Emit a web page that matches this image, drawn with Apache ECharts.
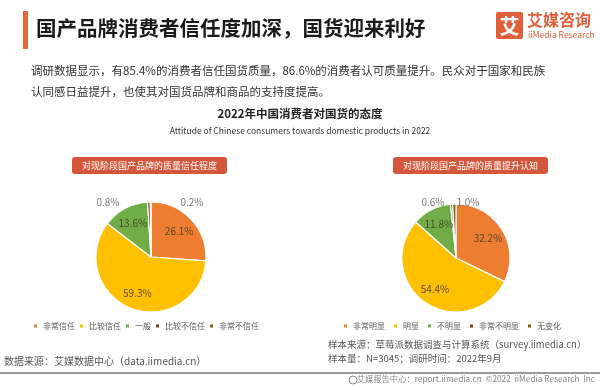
<!DOCTYPE html>
<html><head><meta charset="utf-8">
<script src="https://cdn.jsdelivr.net/npm/echarts@6/dist/echarts.min.js"></script>
<style>html,body{margin:0;padding:0;background:#fff}#c{width:600px;height:386px}</style>
</head><body><div id="c"></div>
<script>
const trustCats = ['非常信任','比较信任','一般','比较不信任','非常不信任'];
const trustVals = [26.1, 59.3, 13.6, 0.8, 0.2];
const improveCats = ['非常明显','明显','不明显','非常不明显','无变化'];
const improveVals = [32.2, 54.4, 11.8, 0.6, 1.0];
const colors = ['#ED7D31','#FFC000','#70AD47','#843C0C','#7F6000'];

const FONT = '"Noto Sans CJK SC","Noto Sans",sans-serif';
const chart = echarts.init(document.getElementById('c'), null, {renderer:'canvas'});

// label placement: inside labels pushed outward along slice mid-angle; tiny slices labelled above the pie
function makeLabelLayout(vals, center, radius, smallPos){
  const total = vals.reduce((a,b)=>a+b,0);
  const cum = [];
  let s = 0;
  vals.forEach(v=>{ cum.push(s + v/2); s += v; });
  return function(p){
    const i = p.dataIndex;
    if (smallPos[i]) {
      return {x: smallPos[i][0], y: smallPos[i][1], align:'center', verticalAlign:'middle'};
    }
    const a = cum[i] / total * Math.PI * 2;
    const r = radius * 0.7;
    return {x: center[0] + Math.sin(a)*r, y: center[1] - Math.cos(a)*r, align:'center', verticalAlign:'middle'};
  };
}

function pieSeries(name, cats, vals, center, radius, smallPos){
  return {
    type:'pie', name, center, radius:[0, radius], startAngle:90, clockwise:true,
    avoidLabelOverlap:false, silent:true, animation:false,
    itemStyle:{borderColor:'#fff', borderWidth:1.2},
    label:{show:true, position:'inside', formatter:p=>p.value.toFixed(1)+'%', color:'rgba(70,60,40,0.9)', fontSize:10, fontFamily:FONT},
    labelLine:{show:false},
    labelLayout: makeLabelLayout(vals, center, radius, smallPos),
    data: cats.map((c,i)=>({name:c, value:vals[i], itemStyle:{color:colors[i]},
      label: i>=3 ? {color:'#7a7a7a'} : {}}))
  };
}

chart.setOption({
  backgroundColor:'#fff',
  textStyle:{fontFamily:FONT},
  title:[
    {text:'国产品牌消费者信任度加深，国货迎来利好', left:36, top:18, padding:0, textStyle:{fontSize:20.5, fontWeight:'bold', color:'#1a1a1a', fontFamily:FONT}},
    {text:'调研数据显示，有85.4%的消费者信任国货质量，86.6%的消费者认可质量提升。民众对于国家和民族\n认同感日益提升，也使其对国货品牌和商品的支持度提高。', left:31, top:60, padding:0,
      textStyle:{fontSize:11.5, fontWeight:'normal', color:'#333', lineHeight:21, fontFamily:FONT}},
    {text:'2022年中国消费者对国货的态度', left:'center', top:108, padding:0, textStyle:{fontSize:11.5, fontWeight:'bold', color:'#222', fontFamily:FONT}},
    {text:'Attitude of Chinese consumers towards domestic products in 2022', left:'center', top:127, padding:0, textStyle:{fontSize:8.5, fontWeight:'normal', color:'#333', fontFamily:FONT}},
    {text:'对现阶段国产品牌的质量信任程度', left:72, top:157, padding:[4,10,4,10], backgroundColor:'#D4573C', borderRadius:3,
      textStyle:{fontSize:9, fontWeight:'normal', color:'#fff', fontFamily:FONT}},
    {text:'对现阶段国产品牌的质量提升认知', left:393, top:157, padding:[4,10,4,10], backgroundColor:'#D4573C', borderRadius:3,
      textStyle:{fontSize:9, fontWeight:'normal', color:'#fff', fontFamily:FONT}},
    {text:'数据来源：艾媒数据中心（data.iimedia.cn）', left:4, top:356, padding:0, textStyle:{fontSize:10, fontWeight:'normal', color:'#555', fontFamily:FONT}},
    {text:'样本来源：草莓派数据调查与计算系统（survey.iimedia.cn）\n样本量：N=3045；调研时间：2022年9月', left:328, top:337, padding:0,
      textStyle:{fontSize:9.5, fontWeight:'normal', color:'#555', lineHeight:14, fontFamily:FONT}},
    {text:'艾媒报告中心：report.iimedia.cn  ©2022  iiMedia Research  Inc', right:5, top:375, padding:0, textStyle:{fontSize:8.3, fontWeight:'normal', color:'#888', fontFamily:FONT}}
  ],
  legend:[
    {data:trustCats, left:32, top:322, padding:0, icon:'rect', itemWidth:5, itemHeight:5, itemGap:3,
      textStyle:{fontSize:8, color:'#595959', fontFamily:FONT}, selectedMode:false},
    {data:improveCats, left:342, top:322, padding:0, icon:'rect', itemWidth:5, itemHeight:5, itemGap:7,
      textStyle:{fontSize:8, color:'#595959', fontFamily:FONT}, selectedMode:false}
  ],
  series:[
    pieSeries('信任程度', trustCats, trustVals, [151,257], 55, {3:[108,202], 4:[192,202]}),
    pieSeries('提升认知', improveCats, improveVals, [456,258], 54, {3:[433,202], 4:[468,202]})
  ],
  graphic:[
    {type:'rect', shape:{x:23, y:11, width:5, height:38}, style:{fill:'#E8643C'}},
    {type:'rect', shape:{x:496, y:12, width:27, height:27, r:2}, style:{fill:'#E0603A'}},
    {type:'text', x:509.5, y:26, style:{text:'艾', fill:'#fff', font:'bold 20px '+FONT, align:'center', verticalAlign:'middle'}},
    {type:'text', x:527, y:12, style:{text:'艾媒咨询', fill:'#E0603A', font:'bold 16px '+FONT}},
    {type:'text', x:528, y:31, style:{text:'iiMedia Research', fill:'#E0603A', font:'8.5px '+FONT}},
    {type:'rect', shape:{x:0, y:372, width:600, height:2}, style:{fill:'#999'}},
    {type:'circle', shape:{cx:353, cy:380, r:4}, style:{fill:'none', stroke:'#888', lineWidth:1}}
  ]
});
</script></body></html>
